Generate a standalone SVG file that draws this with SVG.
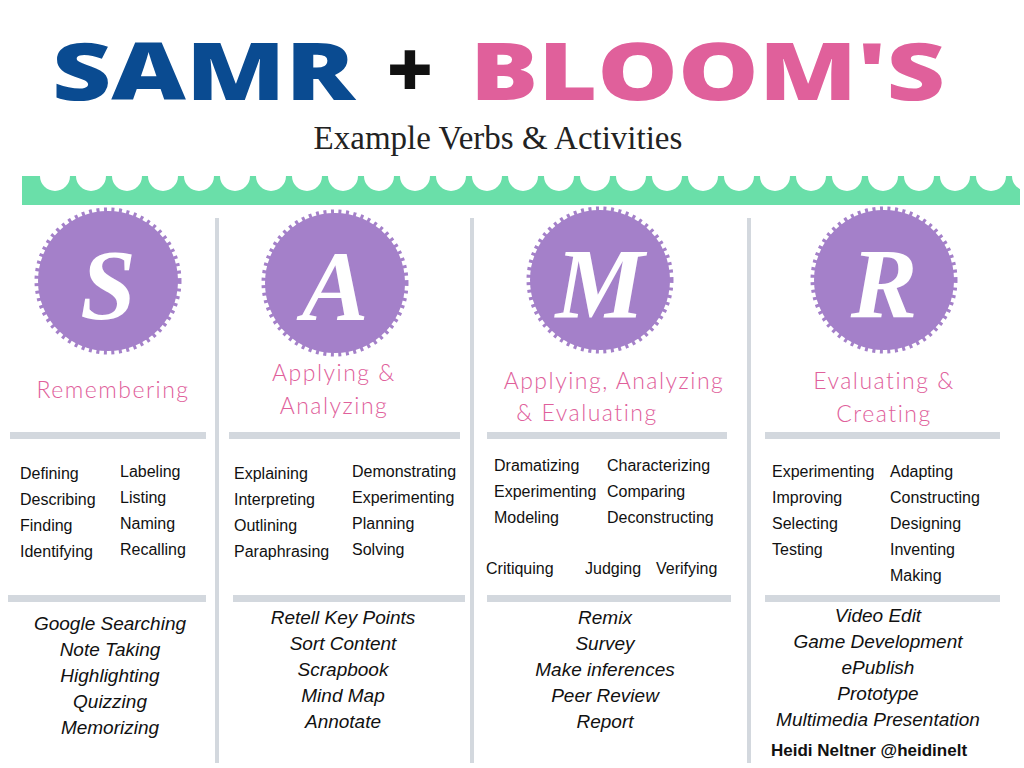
<svg xmlns="http://www.w3.org/2000/svg" width="1024" height="768" viewBox="0 0 1024 768">
<style>
.title{font-family:"Open Sans","DejaVu Sans",sans-serif;font-weight:800;font-size:80px}
.sub{font-family:"Liberation Serif",serif;font-size:33px;fill:#222}
.lvl{font-family:"Lato","Open Sans",sans-serif;font-weight:300;font-size:23px;fill:#e0609b;letter-spacing:1.5px;text-anchor:middle}
.verb{font-family:"Liberation Sans",Arial,sans-serif;font-size:16px;fill:#111}
.act{font-family:"Liberation Sans",Arial,sans-serif;font-style:italic;font-size:19px;fill:#111;text-anchor:middle}
.bar{fill:#d3d8de}
.badge{fill:#a480c9}
.teeth{fill:none;stroke:#a480c9;stroke-width:5;stroke-dasharray:3 4.5}
.letter{font-family:"Liberation Serif",serif;font-weight:bold;font-style:italic;font-size:100px;fill:#fff;text-anchor:middle}
</style>
<rect width="1024" height="768" fill="#fff"/>
<text x="52" y="100" class="title" fill="#0a4b91" textLength="303" lengthAdjust="spacingAndGlyphs">SAMR</text>
<text x="410" y="98" class="title" fill="#111" font-size="64" text-anchor="middle">+</text>
<text x="470" y="100" class="title" fill="#e0609b" textLength="475" lengthAdjust="spacingAndGlyphs">BLOOM'S</text>
<text x="498" y="149" class="sub" text-anchor="middle">Example Verbs &amp; Activities</text>
<g id="scallop">
<rect x="22" y="176" width="998" height="29" fill="#6adfa9"/>
<g fill="#fff">
<circle cx="55" cy="176" r="15"/><circle cx="91" cy="176" r="15"/><circle cx="127" cy="176" r="15"/><circle cx="163" cy="176" r="15"/><circle cx="199" cy="176" r="15"/><circle cx="235" cy="176" r="15"/><circle cx="271" cy="176" r="15"/><circle cx="307" cy="176" r="15"/><circle cx="343" cy="176" r="15"/><circle cx="379" cy="176" r="15"/><circle cx="415" cy="176" r="15"/><circle cx="451" cy="176" r="15"/><circle cx="487" cy="176" r="15"/><circle cx="523" cy="176" r="15"/><circle cx="559" cy="176" r="15"/><circle cx="595" cy="176" r="15"/><circle cx="631" cy="176" r="15"/><circle cx="667" cy="176" r="15"/><circle cx="703" cy="176" r="15"/><circle cx="739" cy="176" r="15"/><circle cx="775" cy="176" r="15"/><circle cx="811" cy="176" r="15"/><circle cx="847" cy="176" r="15"/><circle cx="883" cy="176" r="15"/><circle cx="919" cy="176" r="15"/><circle cx="955" cy="176" r="15"/><circle cx="991" cy="176" r="15"/><circle cx="1027" cy="176" r="15"/>
</g>
<rect x="0" y="160" width="1024" height="16" fill="#fff"/>
</g>
<g id="dividers" class="bar">
<rect x="215" y="218" width="4" height="545"/>
<rect x="470" y="218" width="4" height="545"/>
<rect x="747" y="218" width="4" height="545"/>
<rect x="10" y="432" width="196" height="7"/>
<rect x="229" y="432" width="231" height="7"/>
<rect x="487" y="432" width="240" height="7"/>
<rect x="765" y="432" width="235" height="7"/>
<rect x="8" y="595" width="198" height="7"/>
<rect x="233" y="595" width="232" height="7"/>
<rect x="487" y="595" width="244" height="7"/>
<rect x="765" y="595" width="235" height="7"/>
</g>
<g id="S">
<circle cx="108" cy="281" r="70" class="badge"/><circle cx="108" cy="281" r="71" class="teeth"/>
<text x="108" y="318" class="letter">S</text>
<text x="113" y="398" class="lvl">Remembering</text>
<text x="20" y="479" class="verb">Defining</text><text x="20" y="505" class="verb">Describing</text><text x="20" y="531" class="verb">Finding</text><text x="20" y="557" class="verb">Identifying</text>
<text x="120" y="477" class="verb">Labeling</text><text x="120" y="503" class="verb">Listing</text><text x="120" y="529" class="verb">Naming</text><text x="120" y="555" class="verb">Recalling</text>
<text x="110" y="630" class="act">Google Searching</text><text x="110" y="656" class="act">Note Taking</text><text x="110" y="682" class="act">Highlighting</text><text x="110" y="708" class="act">Quizzing</text><text x="110" y="734" class="act">Memorizing</text>
</g>
<g id="A">
<circle cx="335" cy="283" r="70" class="badge"/><circle cx="335" cy="283" r="71" class="teeth"/>
<text x="335" y="320" class="letter">A</text>
<text x="334" y="381" class="lvl">Applying &amp;</text><text x="334" y="414" class="lvl">Analyzing</text>
<text x="234" y="479" class="verb">Explaining</text><text x="234" y="505" class="verb">Interpreting</text><text x="234" y="531" class="verb">Outlining</text><text x="234" y="557" class="verb">Paraphrasing</text>
<text x="352" y="477" class="verb">Demonstrating</text><text x="352" y="503" class="verb">Experimenting</text><text x="352" y="529" class="verb">Planning</text><text x="352" y="555" class="verb">Solving</text>
<text x="343" y="624" class="act">Retell Key Points</text><text x="343" y="650" class="act">Sort Content</text><text x="343" y="676" class="act">Scrapbook</text><text x="343" y="702" class="act">Mind Map</text><text x="343" y="728" class="act">Annotate</text>
</g>
<g id="M">
<circle cx="600" cy="280" r="70" class="badge"/><circle cx="600" cy="280" r="71" class="teeth"/>
<text x="600" y="317" class="letter">M</text>
<text x="614" y="389" class="lvl">Applying, Analyzing</text><text x="587" y="421" class="lvl">&amp; Evaluating</text>
<text x="494" y="471" class="verb">Dramatizing</text><text x="494" y="497" class="verb">Experimenting</text><text x="494" y="523" class="verb">Modeling</text>
<text x="607" y="471" class="verb">Characterizing</text><text x="607" y="497" class="verb">Comparing</text><text x="607" y="523" class="verb">Deconstructing</text>
<text x="486" y="574" class="verb">Critiquing</text><text x="585" y="574" class="verb">Judging</text><text x="656" y="574" class="verb">Verifying</text>
<text x="605" y="624" class="act">Remix</text><text x="605" y="650" class="act">Survey</text><text x="605" y="676" class="act">Make inferences</text><text x="605" y="702" class="act">Peer Review</text><text x="605" y="728" class="act">Report</text>
</g>
<g id="R">
<circle cx="884" cy="280" r="70" class="badge"/><circle cx="884" cy="280" r="71" class="teeth"/>
<text x="884" y="317" class="letter">R</text>
<text x="884" y="389" class="lvl">Evaluating &amp;</text><text x="884" y="422" class="lvl">Creating</text>
<text x="772" y="477" class="verb">Experimenting</text><text x="772" y="503" class="verb">Improving</text><text x="772" y="529" class="verb">Selecting</text><text x="772" y="555" class="verb">Testing</text>
<text x="890" y="477" class="verb">Adapting</text><text x="890" y="503" class="verb">Constructing</text><text x="890" y="529" class="verb">Designing</text><text x="890" y="555" class="verb">Inventing</text><text x="890" y="581" class="verb">Making</text>
<text x="878" y="622" class="act">Video Edit</text><text x="878" y="648" class="act">Game Development</text><text x="878" y="674" class="act">ePublish</text><text x="878" y="700" class="act">Prototype</text><text x="878" y="726" class="act">Multimedia Presentation</text>
<text x="771" y="756" font-family="Liberation Sans,Arial,sans-serif" font-weight="bold" font-size="17" fill="#111">Heidi Neltner @heidinelt</text>
</g>
</svg>
